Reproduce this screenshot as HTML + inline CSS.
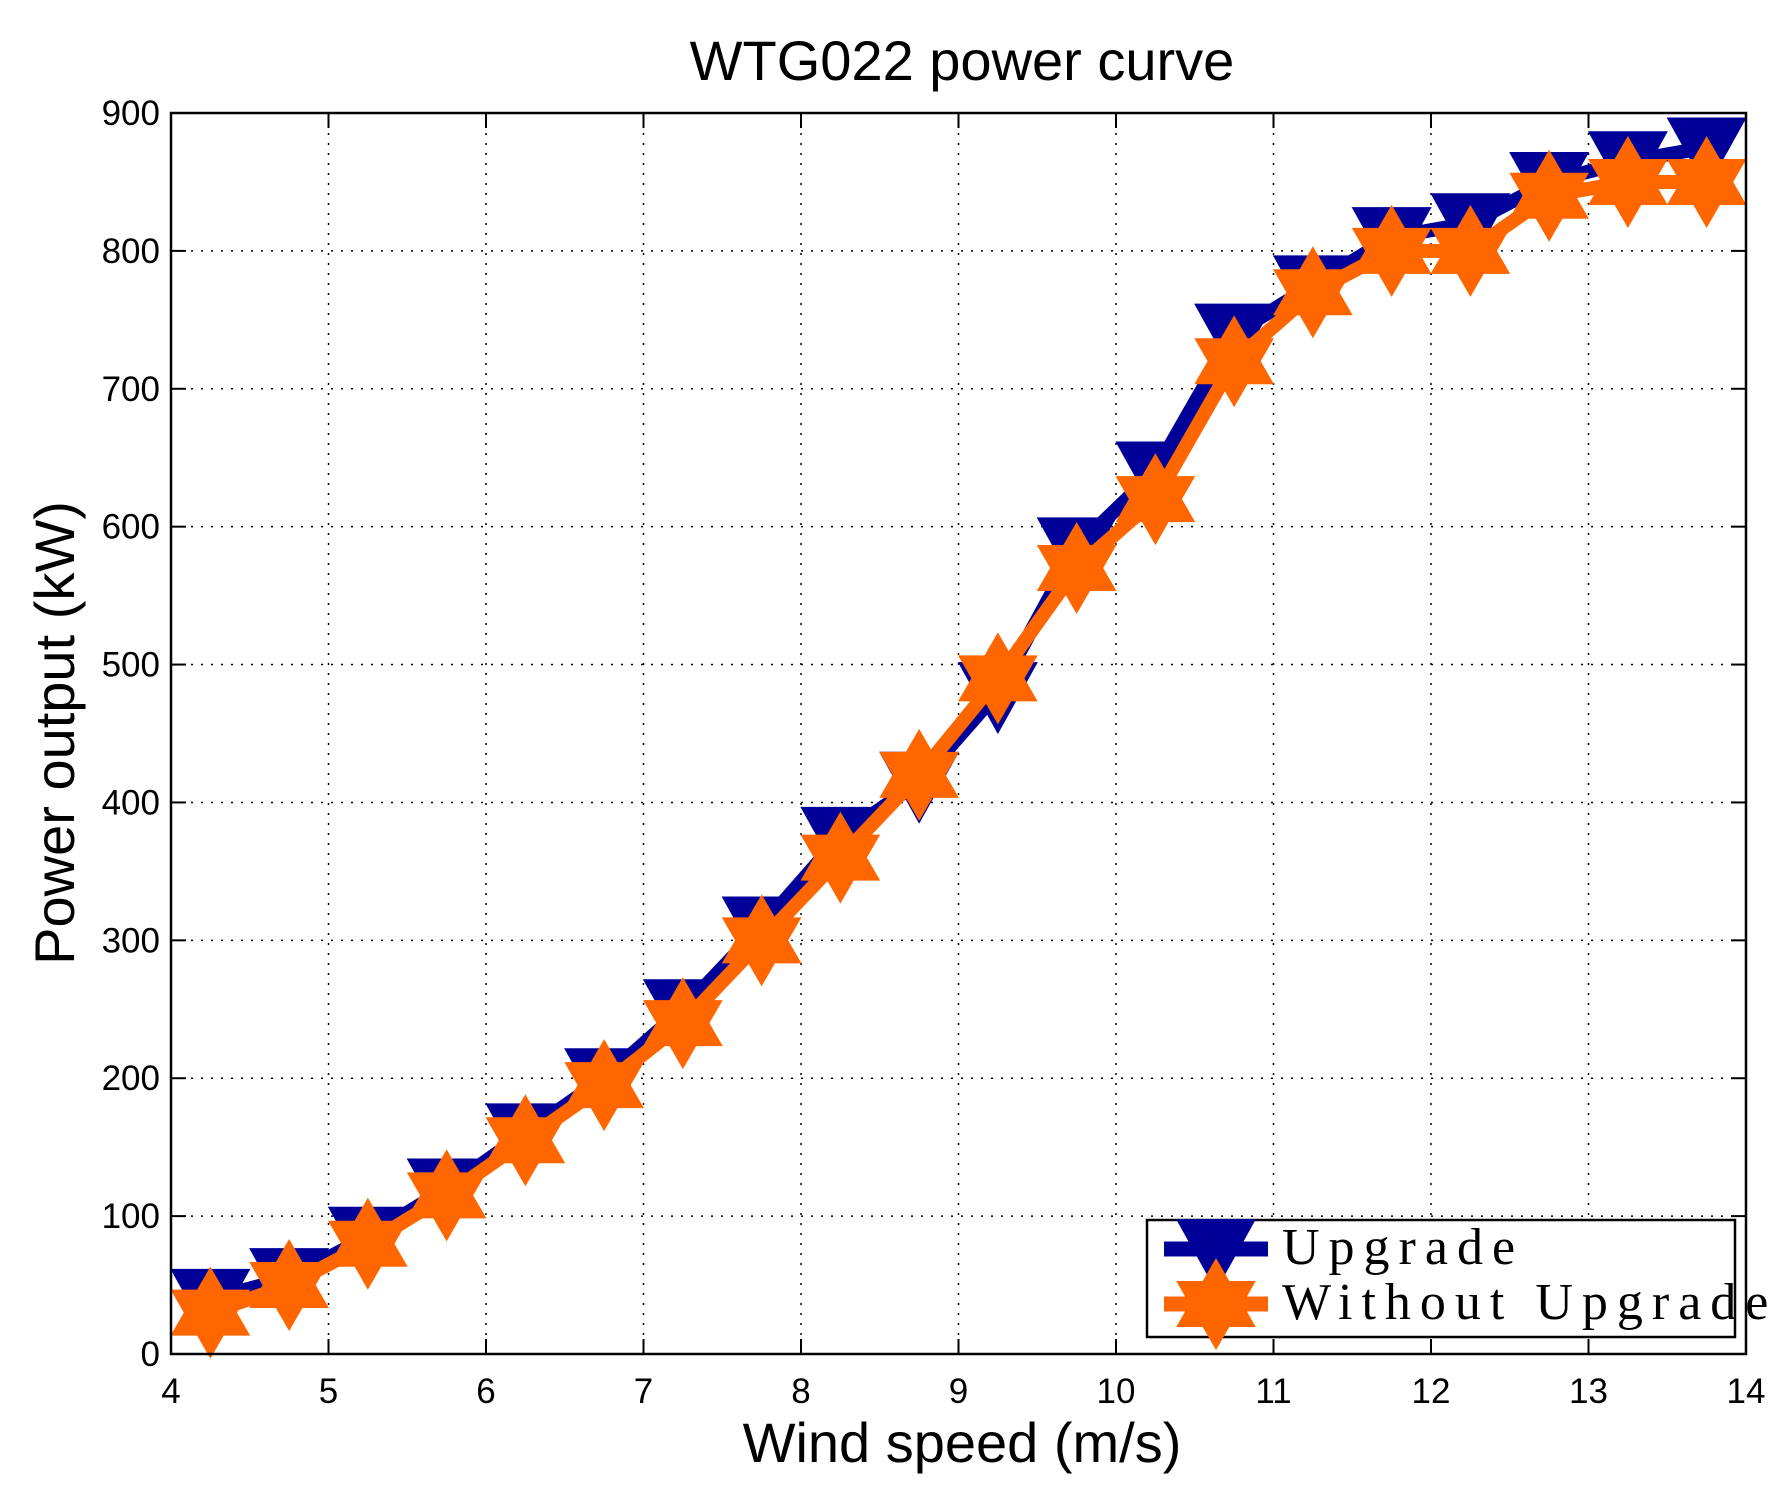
<!DOCTYPE html>
<html><head><style>body{margin:0;background:#fff}svg{display:block}</style></head>
<body>
<svg id="s" width="1786" height="1488" xmlns="http://www.w3.org/2000/svg" font-family="Liberation Sans, sans-serif">
<rect width="1786" height="1488" fill="#fff"/>
<g id="grid" stroke="#000" stroke-width="1.5" stroke-dasharray="2,8"></g>
<g id="ticks" stroke="#000" stroke-width="2"></g>
<g id="labels" font-size="35" fill="#000"></g>
<g id="data"></g>
<rect x="171" y="113" width="1575" height="1241" fill="none" stroke="#000" stroke-width="2.5"/>
<text x="962" y="80" font-size="56" text-anchor="middle">WTG022 power curve</text>
<text x="962" y="1462" font-size="56" text-anchor="middle">Wind speed (m/s)</text>
<text transform="translate(74,733) rotate(-90)" font-size="56" text-anchor="middle">Power output (kW)</text>
<rect x="1147" y="1220" width="588" height="117" fill="#fff" stroke="#000" stroke-width="2.5"/>
<g id="leg"></g>
<text x="1282" y="1264" font-family="Liberation Serif, serif" font-size="52" letter-spacing="9">Upgrade</text>
<text x="1282" y="1319" font-family="Liberation Serif, serif" font-size="52" letter-spacing="9">Without Upgrade</text>
</svg>
<script>
const NS="http://www.w3.org/2000/svg";
const L=171,R=1746,T=113,B=1354;
const X=v=>L+(v-4)*(R-L)/10, Y=v=>B-v*(B-T)/900;
function el(p,t,a,txt){const e=document.createElementNS(NS,t);for(const k in a)e.setAttribute(k,a[k]);if(txt!==undefined)e.textContent=txt;document.getElementById(p).appendChild(e);return e;}
for(let i=5;i<14;i++)el('grid','line',{x1:X(i),x2:X(i),y1:T,y2:B});
for(let v=100;v<900;v+=100)el('grid','line',{x1:L,x2:R,y1:Y(v),y2:Y(v)});
for(let i=4;i<=14;i++){el('ticks','line',{x1:X(i),x2:X(i),y1:B,y2:B-15});el('ticks','line',{x1:X(i),x2:X(i),y1:T,y2:T+15});
 el('labels','text',{x:X(i),y:1403,'text-anchor':'middle'},String(i));}
for(let v=0;v<=900;v+=100){el('ticks','line',{x1:L,x2:L+15,y1:Y(v),y2:Y(v)});el('ticks','line',{x1:R,x2:R-15,y1:Y(v),y2:Y(v)});
 el('labels','text',{x:160,y:Y(v)+12,'text-anchor':'end'},String(v));}
const xs=[];for(let i=0;i<20;i++)xs.push(4.25+0.5*i);
const blue=[40,55,85,120,160,200,250,310,375,415,480,585,640,740,775,810,820,850,865,875];
const orng=[30,50,80,115,155,195,240,300,360,420,490,570,620,720,770,800,800,840,850,850];
const BC="#000099",OC="#ff6600";
function tri(p,cx,cy){el(p,'polygon',{points:`${cx-40},${cy-30} ${cx+40},${cy-30} ${cx},${cy+42}`,fill:BC});}
function star(p,cx,cy){const r=46,a=r*0.866,b=r*0.5;
 el(p,'polygon',{points:`${cx},${cy-r} ${cx+a},${cy+b} ${cx-a},${cy+b}`,fill:OC});
 el(p,'polygon',{points:`${cx},${cy+r} ${cx+a},${cy-b} ${cx-a},${cy-b}`,fill:OC});}
el('data','polyline',{points:xs.map((x,i)=>X(x)+','+Y(blue[i])).join(' '),fill:'none',stroke:BC,'stroke-width':14,'stroke-linejoin':'round'});
xs.forEach((x,i)=>tri('data',X(x),Y(blue[i])));
el('data','polyline',{points:xs.map((x,i)=>X(x)+','+Y(orng[i])).join(' '),fill:'none',stroke:OC,'stroke-width':14,'stroke-linejoin':'round'});
xs.forEach((x,i)=>star('data',X(x),Y(orng[i])));
el('leg','line',{x1:1164,x2:1268,y1:1249,y2:1249,stroke:BC,'stroke-width':15});
tri('leg',1216,1249);
el('leg','line',{x1:1164,x2:1268,y1:1304,y2:1304,stroke:OC,'stroke-width':15});
star('leg',1216,1304);
</script>
</body></html>
